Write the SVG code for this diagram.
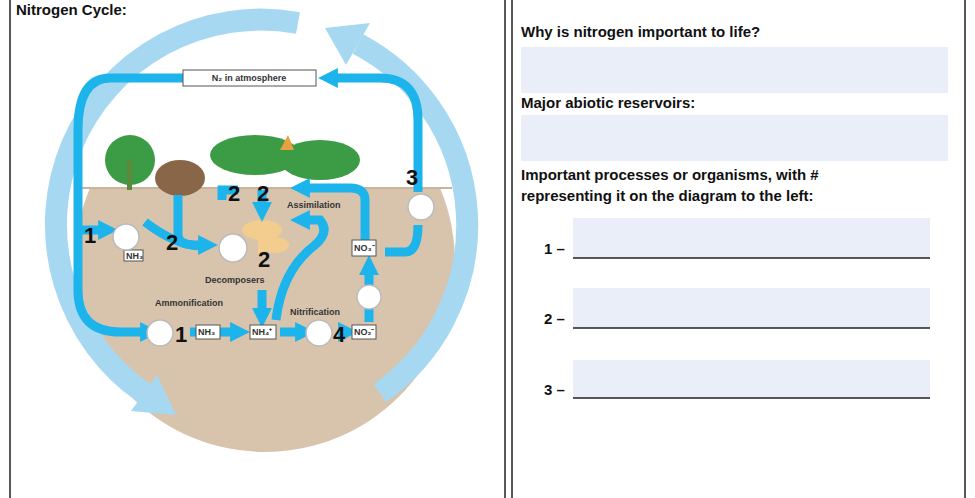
<svg xmlns="http://www.w3.org/2000/svg" width="975" height="498" viewBox="0 0 975 498">
<style>
.h{font-family:"Liberation Sans",Arial,sans-serif;font-weight:bold;font-size:15px;fill:#111}
.s{font-family:"Liberation Sans",Arial,sans-serif;font-weight:bold;font-size:9px;fill:#333}
.n{font-family:"Liberation Sans",Arial,sans-serif;font-weight:bold;font-size:22px;fill:#111}
.a{fill:none;stroke:#1db4ec;stroke-width:9}
.lab{fill:#fff;stroke:#555;stroke-width:1}
.bug{fill:#fff;stroke:#bbb;stroke-width:1.5}
.box{fill:#e9eef9}
</style>
<defs>
<marker id="m" viewBox="0 0 10 10" refX="5" refY="5" markerWidth="2.2" markerHeight="2.6" orient="auto"><path d="M0,0L10,5L0,10z" fill="#1db4ec"/></marker>
<clipPath id="soil"><rect x="0" y="188" width="510" height="320"/></clipPath>
</defs>
<rect width="975" height="498" fill="#fff"/>
<path d="M10,0V498M505,0V498M512,0V498M965,0V498" stroke="#222" stroke-width="1.5"/>
<text class="h" x="16" y="15">Nitrogen Cycle:</text>
<g id="scene">
<circle cx="265" cy="262" r="190" fill="#d8c4ad" clip-path="url(#soil)"/>
<path d="M78,188H452" stroke="#c9b49a" stroke-width="2"/>
<path d="M298,23 A205,205 0 0 0 144,393" fill="none" stroke="#a6d8f2" stroke-width="22"/>
<polygon points="157,375 131,411 176,415" fill="#a6d8f2"/>
<path d="M380,393 A205,205 0 0 0 358,44" fill="none" stroke="#a6d8f2" stroke-width="22"/>
<polygon points="370,23 346,65 325,28" fill="#a6d8f2"/>
<g id="plants" fill="#3c9b45">
<ellipse cx="130" cy="160" rx="25" ry="25"/><rect x="127" y="160" width="5" height="30" fill="#5a8a3a"/>
<ellipse cx="255" cy="155" rx="45" ry="20"/><ellipse cx="320" cy="160" rx="40" ry="20"/>
<path d="M280,150 l8,-15 l6,15z" fill="#e8a040"/>
</g>
<ellipse id="vole" cx="180" cy="178" rx="25" ry="18" fill="#8a6648"/>
<g id="mushrooms" fill="#f2cd8e"><ellipse cx="262" cy="230" rx="20" ry="10"/><ellipse cx="275" cy="245" rx="14" ry="8"/><rect x="258" y="235" width="6" height="20"/></g>
</g>
<g id="connectors">
<path class="a" d="M183,78H110Q78,78 78,130V290Q78,332 120,332H150" marker-end="url(#m)"/>
<path class="a" d="M78,230H108" marker-end="url(#m)"/>
<path class="a" d="M418,192V120Q418,78 380,78H328" marker-end="url(#m)"/>
<path class="a" d="M385,252H405Q418,252 418,225" />
<path class="a" d="M178,195V235Q178,245 195,245H208" marker-end="url(#m)"/>
<path class="a" d="M145,222Q175,245 200,246"/>
<path class="a" d="M238,190H222V200"/>
<path class="a" d="M262,190V212" marker-end="url(#m)"/>
<path class="a" d="M262,290V318" marker-end="url(#m)"/>
<path class="a" d="M190,332H240" marker-end="url(#m)"/>
<path class="a" d="M280,332H305" marker-end="url(#m)"/>
<path class="a" d="M340,332H348" marker-end="url(#m)"/>
<path class="a" d="M369,322V265" marker-end="url(#m)"/>
<path class="a" d="M276,320Q282,270 315,245Q330,232 320,220H300" marker-end="url(#m)"/>
<path class="a" d="M365,240V200Q365,188 350,188H300" marker-end="url(#m)"/>
</g>
<g id="labels">
<rect class="lab" x="183" y="70" width="133" height="16"/><text class="s" x="249" y="81" text-anchor="middle">N₂ in atmosphere</text>
<rect class="lab" x="124" y="250" width="19" height="11"/><text class="s" x="126" y="259" font-size="7">NH₃</text>
<rect class="lab" x="196" y="325" width="24" height="14"/><text class="s" x="198" y="335">NH₃</text>
<rect class="lab" x="250" y="325" width="26" height="14"/><text class="s" x="252" y="335">NH₄⁺</text>
<rect class="lab" x="352" y="325" width="24" height="14"/><text class="s" x="354" y="335">NO₂⁻</text>
<rect class="lab" x="352" y="240" width="24" height="16"/><text class="s" x="354" y="251">NO₃⁻</text>
<text class="s" x="287" y="208">Assimilation</text>
<text class="s" x="205" y="283">Decomposers</text>
<text class="s" x="155" y="306">Ammonification</text>
<text class="s" x="290" y="315">Nitrification</text>
</g>
<g id="bacteria">
<circle class="bug" cx="126" cy="237" r="13"/><circle class="bug" cx="233" cy="248" r="14"/>
<circle class="bug" cx="160" cy="333" r="13"/><circle class="bug" cx="319" cy="333" r="13"/>
<circle class="bug" cx="369" cy="297" r="12"/><circle class="bug" cx="421" cy="207" r="13"/>
</g>
<g id="numbers">
<text class="n" x="84" y="243">1</text><text class="n" x="166" y="250">2</text>
<text class="n" x="228" y="201">2</text><text class="n" x="257" y="201">2</text>
<text class="n" x="258" y="267">2</text><text class="n" x="175" y="342">1</text>
<text class="n" x="333" y="342">4</text><text class="n" x="406" y="185">3</text>
</g>
<g id="worksheet">
<text class="h" x="521" y="37">Why is nitrogen important to life?</text>
<rect class="box" x="521" y="47" width="427" height="46"/>
<text class="h" x="521" y="108">Major abiotic reservoirs:</text>
<rect class="box" x="521" y="115" width="427" height="46"/>
<text class="h" x="521" y="180">Important processes or organisms, with #</text>
<text class="h" x="521" y="201">representing it on the diagram to the left:</text>
<rect class="box" x="573" y="218" width="357" height="40"/>
<rect class="box" x="573" y="288" width="357" height="40"/>
<rect class="box" x="573" y="360" width="357" height="38"/>
<path d="M573,258H930M573,328H930M573,398H930" stroke="#222" stroke-width="1.3"/>
<text class="h" x="544" y="254">1 –</text>
<text class="h" x="544" y="324">2 –</text>
<text class="h" x="544" y="395">3 –</text>
</g>
</svg>
